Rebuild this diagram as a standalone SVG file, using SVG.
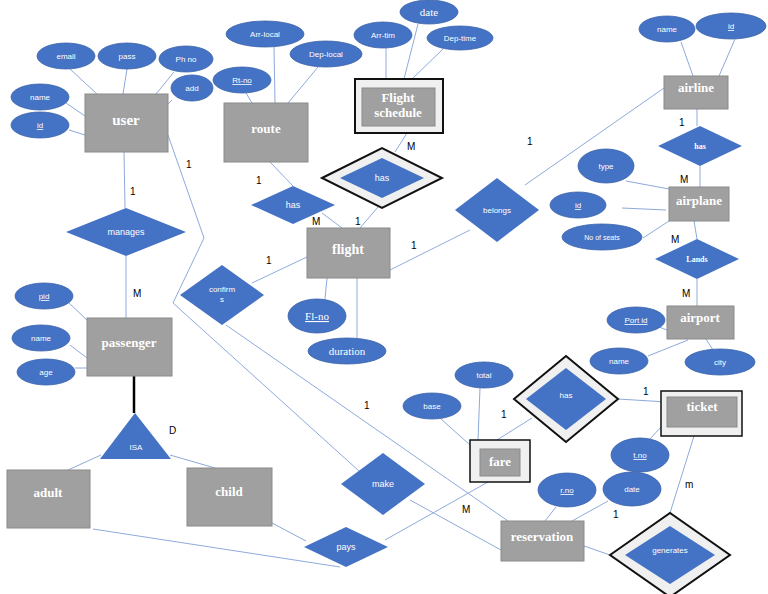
<svg xmlns="http://www.w3.org/2000/svg" width="768" height="594" viewBox="0 0 768 594">
<style>
.e{fill:#a0a0a0;stroke:#8a8a8a;stroke-width:1}
.w{fill:#f0f0f0;stroke:#111;stroke-width:2}
.d{fill:#4472c4}
.a{fill:#4472c4;stroke:#3a62a8;stroke-width:0.8}
.c{stroke:#8eaadb;stroke-width:1;fill:none}
.et{font-family:"Liberation Serif",serif;font-weight:bold;fill:#fff;text-anchor:middle;font-size:13px}
.at{font-family:"Liberation Sans",sans-serif;fill:#fff;text-anchor:middle;font-size:8px}
.as{font-family:"Liberation Serif",serif;fill:#fff;text-anchor:middle;font-size:11px}
.rt{font-family:"Liberation Sans",sans-serif;fill:#fff;text-anchor:middle;font-size:9px}
.lb{font-family:"Liberation Sans",sans-serif;fill:#000;font-size:10px}
.u{text-decoration:underline}
</style>
<g id="connectors">
<path class="c" d="M70 69L97 94M127 69L123 94M174 72L156 94M172 100L168 104M66 103L85 116M69 130L85 135"/>
<path class="c" d="M124 152L125 208M126 256L126 318"/>
<path class="c" d="M168 135L204 238L173 303L359 471"/>
<path class="c" d="M307 257L252 283M226 325L508 521M410 500L501 550"/>
<path class="c" d="M385 540L488 482M93 529L340 567M272 523L306 541"/>
<path d="M134 376L134 413" stroke="#000" stroke-width="2.5"/>
<path class="c" d="M101 455L68 470M170 455L215 468"/>
<path class="c" d="M270 162L293 186M322 213L342 228M407 133L395 152M378 207L360 228"/>
<path class="c" d="M390 270L470 230M525 185L664 88"/>
<path class="c" d="M697 109L697 126M700 166L700 187M694 221L697 239M697 279L697 306"/>
<path class="c" d="M274 47L275 103M318 67L288 103M246 93L252 103"/>
<path class="c" d="M386 48L386 79M418 24L404 79M443 49L412 79"/>
<path class="c" d="M681 42L693 76M735 39L719 76M626 181L669 189M622 208L666 210M643 238L669 221"/>
<path class="c" d="M651 324L667 330M648 356L688 340M713 350L706 339"/>
<path class="c" d="M480 388L478 440M441 419L470 445M497 440L532 418M618 399L667 402"/>
<path class="c" d="M650 439L661 427M556 507L545 521M608 501L572 521M694 436L670 513M584 546L610 555"/>
<path class="c" d="M69 303L87 320M70 345L87 358M75 368L87 368M325 299L327 278M357 338L357 278"/>
</g>
<g id="labels">
<text class="lb" x="130" y="195">1</text><text class="lb" x="133" y="297">M</text>
<text class="lb" x="186" y="168">1</text><text class="lb" x="266" y="264">1</text>
<text class="lb" x="364" y="409">1</text><text class="lb" x="462" y="513">M</text>
<text class="lb" x="256" y="184">1</text><text class="lb" x="312" y="225">M</text>
<text class="lb" x="407" y="150">M</text><text class="lb" x="355" y="225">1</text>
<text class="lb" x="411" y="249">1</text><text class="lb" x="527" y="145">1</text>
<text class="lb" x="679" y="126">1</text><text class="lb" x="680" y="183">M</text>
<text class="lb" x="671" y="243">M</text><text class="lb" x="682" y="297">M</text>
<text class="lb" x="169" y="434">D</text><text class="lb" x="501" y="418">1</text>
<text class="lb" x="643" y="395">1</text><text class="lb" x="685" y="488">m</text>
<text class="lb" x="613" y="518">1</text>
</g>
<g id="user"><rect class="e" x="85" y="94" width="83" height="58"/><text class="et" x="126" y="125" style="font-size:15px">user</text></g>
<g id="route"><rect class="e" x="224" y="103" width="84" height="59"/><text class="et" x="266" y="133">route</text></g>
<g id="flight-schedule"><rect class="w" x="355" y="79" width="88" height="54"/><rect class="e" x="362" y="88" width="73" height="38"/><text class="et" x="398" y="102">Flight</text><text class="et" x="398" y="117">schedule</text></g>
<g id="flight"><rect class="e" x="307" y="228" width="83" height="50"/><text class="et" x="348" y="254" style="font-size:14px">flight</text></g>
<g id="airline"><rect class="e" x="664" y="76" width="64" height="33"/><text class="et" x="696" y="92">airline</text></g>
<g id="airplane"><rect class="e" x="669" y="187" width="60" height="34"/><text class="et" x="699" y="205">airplane</text></g>
<g id="airport"><rect class="e" x="667" y="306" width="67" height="33"/><text class="et" x="700" y="322">airport</text></g>
<g id="ticket"><rect class="w" x="661" y="391" width="81" height="45" style="stroke-width:1.5"/><rect class="e" x="667" y="397" width="70" height="30"/><text class="et" x="702" y="411">ticket</text></g>
<g id="fare"><rect class="w" x="470" y="440" width="60" height="42" style="stroke-width:1.5"/><rect class="e" x="480" y="449" width="40" height="27"/><text class="et" x="500" y="466">fare</text></g>
<g id="reservation"><rect class="e" x="501" y="521" width="83" height="40"/><text class="et" x="542" y="541">reservation</text></g>
<g id="passenger"><rect class="e" x="87" y="318" width="85" height="58"/><text class="et" x="129" y="347">passenger</text></g>
<g id="adult"><rect class="e" x="7" y="470" width="83" height="58"/><text class="et" x="48" y="497">adult</text></g>
<g id="child"><rect class="e" x="187" y="468" width="85" height="58"/><text class="et" x="229" y="496">child</text></g>
<g id="manages"><polygon class="d" points="66,232 126,208 186,232 126,256"/><text class="rt" x="126" y="235">manages</text></g>
<g id="has-route"><polygon class="d" points="251,205 293,186 335,205 293,224"/><text class="rt" x="293" y="208">has</text></g>
<g id="has-schedule"><polygon class="w" points="322,178 382,148 442,178 382,208"/><polygon class="d" points="340,178 382,158 424,178 382,198"/><text class="rt" x="382" y="181">has</text></g>
<g id="confirms"><polygon class="d" points="180,295 222,265 264,295 222,325"/><text class="at" x="222" y="292">confirm</text><text class="at" x="222" y="302">s</text></g>
<g id="belongs"><polygon class="d" points="455,210 497,178 539,210 497,242"/><text class="at" x="497" y="213">belongs</text></g>
<g id="has-airline"><polygon class="d" points="658,146 700,126 742,146 700,166"/><text class="at" x="700" y="149" style="font-family:'Liberation Serif',serif;font-weight:bold">has</text></g>
<g id="lands"><polygon class="d" points="655,259 697,239 739,259 697,279"/><text class="at" x="697" y="262" style="font-family:'Liberation Serif',serif;font-weight:bold">Lands</text></g>
<g id="has-fare"><polygon class="w" points="514,399 566,356 618,399 566,442"/><polygon class="d" points="526,399 566,368 606,399 566,430"/><text class="at" x="566" y="398">has</text></g>
<g id="make"><polygon class="d" points="341,484 383,453 425,484 383,515"/><text class="rt" x="383" y="487">make</text></g>
<g id="pays"><polygon class="d" points="304,547 346,527 388,547 346,567"/><text class="rt" x="346" y="550">pays</text></g>
<g id="generates"><polygon class="w" points="610,555 670,513 730,555 670,597"/><polygon class="d" points="625,555 670,526 715,555 670,584"/><text class="at" x="670" y="553">generates</text></g>
<g id="isa"><polygon class="d" points="135,413 100,459 171,459"/><text class="at" x="136" y="450">ISA</text></g>
<g id="attributes">
<ellipse class="a" cx="66" cy="56" rx="29" ry="13"/><text class="at" x="66" y="59">email</text>
<ellipse class="a" cx="127" cy="56" rx="29" ry="13"/><text class="at" x="127" y="59">pass</text>
<ellipse class="a" cx="186" cy="59" rx="27" ry="13"/><text class="at" x="186" y="62">Ph no</text>
<ellipse class="a" cx="192" cy="88" rx="21" ry="13"/><text class="at" x="192" y="91">add</text>
<ellipse class="a" cx="40" cy="97" rx="29" ry="13"/><text class="at" x="40" y="100">name</text>
<ellipse class="a" cx="40" cy="125" rx="29" ry="13"/><text class="at u" x="40" y="128">id</text>
<ellipse class="a" cx="265" cy="34" rx="39" ry="13"/><text class="at" x="265" y="37">Arr-local</text>
<ellipse class="a" cx="326" cy="54" rx="36" ry="13"/><text class="at" x="326" y="57">Dep-local</text>
<ellipse class="a" cx="242" cy="80" rx="29" ry="13"/><text class="at u" x="242" y="83">Rt-no</text>
<ellipse class="a" cx="383" cy="35" rx="29" ry="13"/><text class="at" x="383" y="38">Arr-tim</text>
<ellipse class="a" cx="429" cy="12" rx="29" ry="12"/><text class="as" x="429" y="16">date</text>
<ellipse class="a" cx="460" cy="38" rx="33" ry="12"/><text class="at" x="460" y="41">Dep-time</text>
<ellipse class="a" cx="667" cy="29" rx="28" ry="13"/><text class="at" x="667" y="32">name</text>
<ellipse class="a" cx="731" cy="26" rx="35" ry="13"/><text class="at u" x="731" y="29">id</text>
<ellipse class="a" cx="606" cy="166" rx="28" ry="17"/><text class="at" x="606" y="169">type</text>
<ellipse class="a" cx="578" cy="205" rx="28" ry="13"/><text class="at u" x="578" y="208">id</text>
<ellipse class="a" cx="602" cy="237" rx="40" ry="13"/><text class="at" x="602" y="240" style="font-size:7px">No of seats</text>
<ellipse class="a" cx="636" cy="320" rx="29" ry="13"/><text class="at u" x="636" y="323">Port id</text>
<ellipse class="a" cx="619" cy="361" rx="29" ry="13"/><text class="at" x="619" y="364">name</text>
<ellipse class="a" cx="720" cy="362" rx="35" ry="13"/><text class="at" x="720" y="365">city</text>
<ellipse class="a" cx="484" cy="375" rx="29" ry="13"/><text class="at" x="484" y="378">total</text>
<ellipse class="a" cx="432" cy="406" rx="29" ry="13"/><text class="at" x="432" y="409">base</text>
<ellipse class="a" cx="640" cy="455" rx="29" ry="17"/><text class="at u" x="640" y="458">t.no</text>
<ellipse class="a" cx="567" cy="490" rx="29" ry="17"/><text class="at u" x="567" y="493">r.no</text>
<ellipse class="a" cx="632" cy="489" rx="29" ry="17"/><text class="at" x="632" y="492">date</text>
<ellipse class="a" cx="44" cy="296" rx="29" ry="13"/><text class="at u" x="44" y="299">pid</text>
<ellipse class="a" cx="41" cy="338" rx="29" ry="13"/><text class="at" x="41" y="341">name</text>
<ellipse class="a" cx="46" cy="372" rx="29" ry="13"/><text class="at" x="46" y="375">age</text>
<ellipse class="a" cx="317" cy="316" rx="29" ry="17"/><text class="as u" x="317" y="320">Fl-no</text>
<ellipse class="a" cx="347" cy="351" rx="39" ry="13"/><text class="as" x="347" y="355">duration</text>
</g>
</svg>
